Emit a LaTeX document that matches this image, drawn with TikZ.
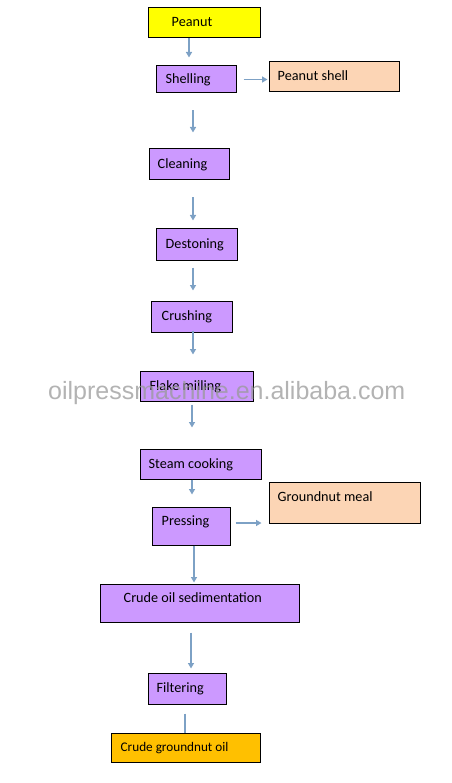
\documentclass[tikz,border=0pt]{standalone}
\usepackage{fontspec}
\setmainfont{Carlito}
\newfontfamily\markfont{Liberation Sans}
\usetikzlibrary{arrows.meta,calc}

\definecolor{lilac}{RGB}{204,153,255}
\definecolor{peach}{RGB}{252,213,181}
\definecolor{nutyellow}{RGB}{255,255,0}
\definecolor{oilorange}{RGB}{255,192,0}
\definecolor{flowblue}{RGB}{125,161,197}

\tikzset{
  stage/.style={draw=black, line width=1pt, fill=lilac, inner sep=0pt},
  stagetext/.style={anchor=base west, inner sep=0pt, xshift=#1, yshift=-4pt,
    font=\fontsize{14.2}{16}\selectfont},
  stagetext/.default=10pt,
  stagetextup/.style={anchor=base west, inner sep=0pt, xshift=#1, yshift=1pt,
    font=\fontsize{14.2}{16}\selectfont},
  stagetextup/.default=10pt,
  flow/.style={draw=flowblue, line width=1.5pt,
    -{Triangle[width=6pt,length=5.5pt]}},
}

\begin{document}
\begin{tikzpicture}[x=1pt,y=-1pt]
\useasboundingbox (0,0) rectangle (451,783);

% boxes
\node[stage, fill=nutyellow, minimum width=112, minimum height=30,
  label={[stagetext=24pt]west:Peanut}] (peanut) at (204,23) {};
\node[stage, minimum width=80, minimum height=27,
  label={[stagetext]west:Shelling}] (shelling) at (196,79.5) {};
\node[stage, fill=peach, minimum width=130, minimum height=30,
  label={[stagetext=9pt]west:Peanut shell}] (shell) at (334,77) {};
\node[stage, minimum width=80, minimum height=31,
  label={[stagetext=9pt]west:Cleaning}] (cleaning) at (189,164.5) {};
\node[stage, minimum width=81, minimum height=32,
  label={[stagetext]west:Destoning}] (destoning) at (196.5,245) {};
\node[stage, minimum width=81, minimum height=31,
  label={[stagetext=11pt]west:Crushing}] (crushing) at (191.5,316.5) {};
\node[stage, minimum width=113, minimum height=30,
  label={[stagetext]west:Flake milling}] (flake) at (196.5,386) {};
\node[stage, minimum width=121, minimum height=30,
  label={[stagetext=9pt]west:Steam cooking}] (steam) at (200.5,464) {};
\node[stage, fill=peach, minimum width=151, minimum height=41,
  label={[stagetextup=9pt]west:Groundnut meal}] (meal) at (344.5,502.5) {};
\node[stage, minimum width=78, minimum height=38,
  label={[stagetextup]west:Pressing}] (pressing) at (191,526) {};
\node[stage, minimum width=199, minimum height=38,
  label={[stagetextup=24pt]west:Crude oil sedimentation}] (sediment) at (199.5,603) {};
\node[stage, minimum width=78, minimum height=31,
  label={[stagetext=9pt]west:Filtering}] (filtering) at (187,688.5) {};
\node[stage, fill=oilorange, minimum width=149, minimum height=29,
  label={[stagetext, font=\fontsize{13.2}{15}\selectfont]west:Crude groundnut oil}] (oil) at (185.5,747.5) {};

% arrows
\draw[flow] ($(peanut.south)+(-15,0)$) -- ($(shelling.north)+(-7,-8)$);
\draw[flow] ($(shelling.east)+(7,0)$) -- ($(shell.west)+(-1,2.5)$);
\draw[flow] ($(shelling.south)+(-3,17)$) -- ($(cleaning.north)+(4,-16)$);
\draw[flow] ($(cleaning.south)+(4,17)$) -- ($(destoning.north)+(-3.5,-8)$);
\draw[flow] ($(destoning.south)+(-3.5,6)$) -- ($(crushing.north)+(1.5,-10)$);
\draw[flow] ($(crushing.south)+(1.5,-2)$) -- ($(flake.north)+(-3.5,-16)$);
\draw[flow] ($(flake.south)+(-4.5,3)$) -- ($(steam.north)+(-8.5,-21)$);
\draw[flow] ($(steam.south)+(-8.5,0)$) -- ($(pressing.north)+(1,-12)$);
\draw[flow] ($(pressing.east)+(5,-3)$) -- ($(meal.west)+(-7,20.5)$);
\draw[flow] ($(pressing.south)+(3,0)$) -- ($(sediment.north)+(-5.5,-1)$);
\draw[flow] ($(sediment.south)+(-8.5,10)$) -- ($(filtering.north)+(4,-4)$);
\draw[flowblue, line width=1.5pt] ($(filtering.south)+(-2,9)$) -- ($(oil.north)+(-0.5,0)$);

% watermark
\node[anchor=base west, inner sep=0pt, text=black!40, text opacity=0.75,
  font=\markfont\fontsize{25}{28}\selectfont] (mark) at (48,399) {oilpressmachine.en.alibaba.com};
\end{tikzpicture}
\end{document}
